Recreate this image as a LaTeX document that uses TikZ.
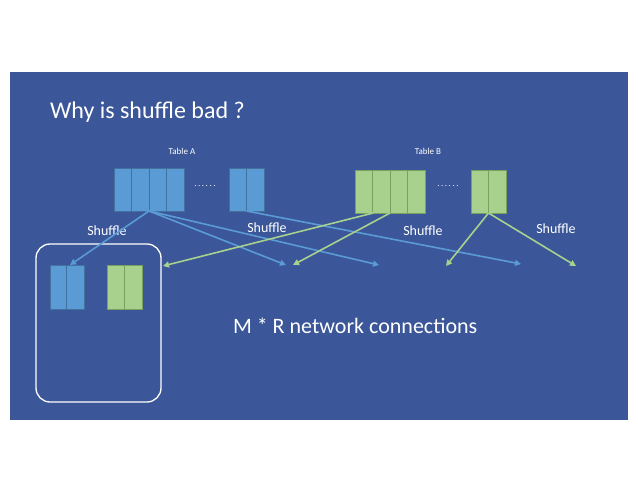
\documentclass[tikz,border=0pt]{standalone}
\usepackage{fontspec}
\setmainfont{Carlito}
\usetikzlibrary{arrows.meta}
\definecolor{slideColor}{RGB}{59,87,153}
\definecolor{blueColor}{RGB}{91,155,213}
\definecolor{greenColor}{RGB}{169,209,142}
\definecolor{edgeBlue}{RGB}{65,113,156}
\definecolor{edgeGreen}{RGB}{120,160,95}
\tikzset{
  cell/.style={draw=#1,line width=0.6pt,minimum width=17.5pt,minimum height=43pt,inner sep=0pt,outer sep=0pt},
  bluecell/.style={cell=edgeBlue,fill=blueColor},
  greencell/.style={cell=edgeGreen,fill=greenColor},
  lbl/.style={text=white,inner sep=0pt,outer sep=0pt},
  shuf/.style={draw=#1,line width=1.6pt,-{Triangle[length=6pt,width=6pt]}},
}
\begin{document}
\begin{tikzpicture}[x=1pt,y=-1pt]
\path[use as bounding box,fill=white] (0,0) rectangle (638,493);
\fill[slideColor] (10,72) rectangle (628,420);

\node[lbl,anchor=west,font=\fontsize{24}{28}\selectfont] (title) at (50,112) {Why is shuffle bad ?};

% Table A
\node[lbl,font=\fontsize{9}{11}\selectfont] (labA) at (182,151) {Table A};
\foreach \i in {0,...,3}
  \node[bluecell,anchor=north west] (a\i) at ({114+\i*17.5},168) {};
\node[lbl,font=\fontsize{9}{11}\selectfont] (dotsA) at (205,186) {.\,.\,.\,.\,.\,.};
\foreach \i in {0,1}
  \node[bluecell,anchor=north west] (aa\i) at ({229+\i*17.5},168) {};

% Table B
\node[lbl,font=\fontsize{9}{11}\selectfont] (labB) at (428,151) {Table B};
\foreach \i in {0,...,3}
  \node[greencell,anchor=north west] (b\i) at ({355+\i*17.5},170) {};
\node[lbl,font=\fontsize{9}{11}\selectfont] (dotsB) at (448,186) {.\,.\,.\,.\,.\,.};
\foreach \i in {0,1}
  \node[greencell,anchor=north west] (bb\i) at ({471+\i*17.5},170) {};

% Shuffle labels
\node[lbl,font=\fontsize{14}{16}\selectfont] (s1) at (107,231) {Shuffle};
\node[lbl,font=\fontsize{14}{16}\selectfont] (s2) at (267,228) {Shuffle};
\node[lbl,font=\fontsize{14}{16}\selectfont] (s3) at (423,231) {Shuffle};
\node[lbl,font=\fontsize{14}{16}\selectfont] (s4) at (556,229) {Shuffle};

% reducer box
\draw[white,line width=1.3pt,rounded corners=14pt] (36,244) rectangle (161,402);
\foreach \i in {0,1}
  \node[bluecell,anchor=north west,minimum height=44pt] (r\i) at ({50+\i*16.5},265) {};
\foreach \i in {0,1}
  \node[greencell,anchor=north west,minimum height=44pt] (g\i) at ({107+\i*17.5},265) {};

% arrow targets
\coordinate (t1) at (70,265);
\coordinate (t2) at (163,266);
\coordinate (t3) at (286,265);
\coordinate (t4) at (293,265);
\coordinate (t5) at (379,265);
\coordinate (t6) at (446,266);
\coordinate (t7) at (521,264);
\coordinate (t8) at (576,266);

\draw[shuf=blueColor] (a1.south east) -- (t1);
\draw[shuf=blueColor] (a1.south east) -- (t3);
\draw[shuf=blueColor] (a1.south east) -- (t5);
\draw[shuf=blueColor] (aa0.south east) -- (t7);
\draw[shuf=greenColor] ([xshift=-8pt]b1.south) -- (t2);
\draw[shuf=greenColor] (b1.south east) -- (t4);
\draw[shuf=greenColor] (bb0.south east) -- (t6);
\draw[shuf=greenColor] (bb0.south east) -- (t8);

\node[lbl,anchor=west,font=\fontsize{22}{26}\selectfont] (conn) at (233,326) {M * R network connections};
\end{tikzpicture}
\end{document}
